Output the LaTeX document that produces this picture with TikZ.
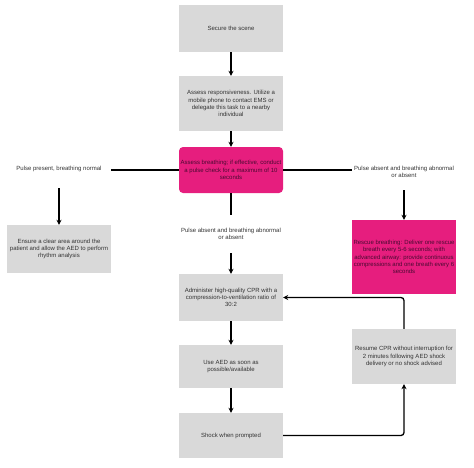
\documentclass[tikz,border=0pt]{standalone}
\usepackage{fontspec}
\setmainfont{Liberation Sans}
\usetikzlibrary{arrows.meta}
\definecolor{boxgray}{HTML}{D9D9D9}
\definecolor{pinkfill}{HTML}{E61E7E}
\definecolor{pinktext}{HTML}{4A0A32}
\definecolor{txtgray}{HTML}{333333}
\tikzset{
  graybox/.style={fill=boxgray, draw=none, minimum width=104pt, align=center, text=txtgray, inner sep=1pt, font=\fontsize{6}{7.2}\selectfont},
  pinkbox/.style={fill=pinkfill, draw=none, minimum width=104pt, align=center, text=pinktext, inner sep=1pt, font=\fontsize{6}{7.2}\selectfont},
  lbl/.style={align=center, text=txtgray, inner sep=0pt, font=\fontsize{6}{7.2}\selectfont},
  arr/.style={line width=1.3pt, -{Stealth[length=5pt,width=5pt]}},
  ln/.style={line width=1.3pt}
}
\begin{document}
\begin{tikzpicture}[x=1pt,y=-1pt]
\useasboundingbox (0,0) rectangle (474,467);
\node[graybox, minimum height=47pt] (secure) at (231,28.5) {Secure the scene};
\node[graybox, minimum height=55pt] (resp) at (231,103.5) {Assess responsiveness. Utilize a\\mobile phone to contact EMS or\\delegate this task to a nearby\\individual};
\node[pinkbox, rounded corners=4pt, minimum height=46pt] (breath) at (231,170) {Assess breathing; if effective, conduct\\a pulse check for a maximum of 10\\seconds};
\node[graybox, minimum height=48pt] (ensure) at (59,249) {Ensure a clear area around the\\patient and allow the AED to perform\\rhythm analysis};
\node[pinkbox, minimum height=74pt] (rescue) at (404,257) {Rescue breathing: Deliver one rescue\\breath every 5-6 seconds; with\\advanced airway: provide continuous\\compressions and one breath every 6\\seconds};
\node[graybox, minimum height=47pt] (cpr) at (231,297.5) {Administer high-quality CPR with a\\compression-to-ventilation ratio of\\30:2};
\node[graybox, minimum height=43pt] (aed) at (231,366.5) {Use AED as soon as\\possible/available};
\node[graybox, minimum height=45pt] (shock) at (231,435.5) {Shock when prompted};
\node[graybox, minimum height=55pt] (resume) at (404,356.5) {Resume CPR without interruption for\\2 minutes following AED shock\\delivery or no shock advised};

\node[lbl] (l1) at (59,169) {Pulse present, breathing normal};
\node[lbl] (l2) at (404,171.5) {Pulse absent and breathing abnormal\\or absent};
\node[lbl] (l3) at (231,234) {Pulse absent and breathing abnormal\\or absent};

\coordinate (l1end) at (111,170);
\coordinate (l1start) at (59,188);
\coordinate (l2end) at (352,170);
\coordinate (l2start) at (404,190);
\coordinate (l3end) at (231,215);
\coordinate (l3start) at (231,253);

\draw[arr] (secure) -- (resp);
\draw[arr] (resp) -- (breath);
\draw[ln] (breath.west) -- (l1end);
\draw[arr] (l1start) -- (ensure);
\draw[ln] (breath.east) -- (l2end);
\draw[arr] (l2start) -- (rescue);
\draw[ln] (breath.south) -- (l3end);
\draw[arr] (l3start) -- (cpr);
\draw[arr] (cpr) -- (aed);
\draw[arr] (aed) -- (shock);
\draw[arr, rounded corners=3pt] (shock.east) -| (resume.south);
\draw[arr, rounded corners=3pt] (resume.north) |- (cpr.east);
\end{tikzpicture}
\end{document}
